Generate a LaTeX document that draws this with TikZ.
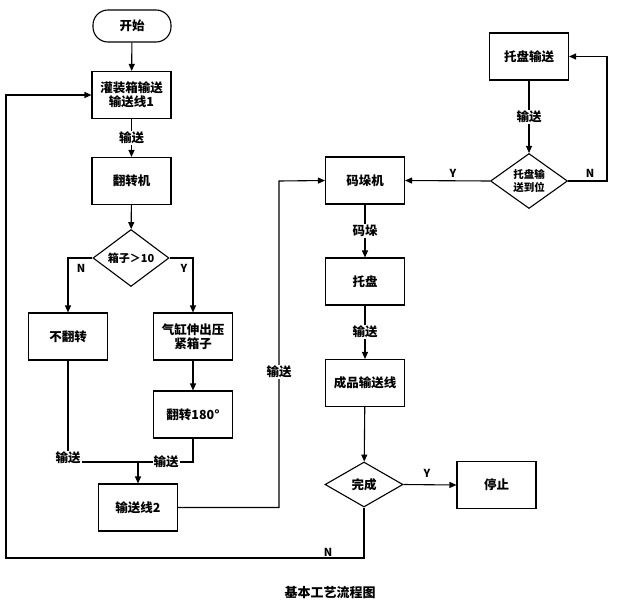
\documentclass[tikz,border=0pt]{standalone}
\usepackage{fontspec}
\setmainfont{Noto Sans CJK SC}
\usetikzlibrary{shapes.geometric,arrows.meta}
\begin{document}
\begin{tikzpicture}[x=1pt,y=-1pt,
  every node/.style={font=\fontsize{12.5}{14.5}\selectfont\bfseries},
  box/.style={draw,line width=1.1pt,minimum width=79pt,minimum height=47pt,inner sep=1pt,align=center},
  term/.style={draw,line width=1.1pt,rounded corners=15pt,minimum width=78pt,minimum height=32pt,inner sep=1pt},
  dia/.style={draw,line width=1.1pt,diamond,inner sep=0pt,align=center},
  lbl/.style={fill=white,inner sep=1pt},
  yn/.style={inner sep=1pt,font=\fontsize{11}{13}\selectfont\bfseries},
  conn/.style={line width=1.1pt},
  arr/.style={conn,-{Triangle[length=7pt,width=6pt]}}]
\useasboundingbox (0,0) rectangle (620,613);
% left column
\node[term] (start) at (132,26) {开始};
\node[box] (load) at (131.5,95) {灌装箱输送\\输送线1};
\node[box] (flip) at (131.5,181) {翻转机};
\node[dia,minimum width=76pt,minimum height=45pt,font=\fontsize{11}{13}\selectfont\bfseries] (d1) at (131,258) {箱子＞10};
\node[box] (noflip) at (68,336.5) {不翻转};
\node[box] (press) at (193,336.5) {气缸伸出压\\紧箱子};
\node[box] (rot) at (193,414.5) {翻转180°};
\node[box] (line2) at (138,507.5) {输送线2};
% right column
\node[box] (pconv) at (529,56.5) {托盘输送};
\node[dia,minimum width=77pt,minimum height=55pt,font=\fontsize{10.5}{13}\selectfont\bfseries] (d2) at (529,181) {托盘输\\送到位};
\node[box] (stack) at (365,180.5) {码垛机};
\node[box] (pallet) at (365,281.5) {托盘};
\node[box] (prod) at (365,383) {成品输送线};
\node[dia,minimum width=78pt,minimum height=45pt] (d3) at (364,484.5) {完成};
\node[box] (stop) at (496.5,485) {停止};
% helper coordinates
\coordinate (n1) at (68,258);
\coordinate (y1) at (193,258);
\coordinate (m1) at (68,462);
\coordinate (m2) at (193,462);
\coordinate (mj) at (138,462);
\coordinate (r1) at (279,507.5);
\coordinate (r2) at (279,181);
\coordinate (q1) at (607,181);
\coordinate (q2) at (607,56.5);
\coordinate (b1) at (364,558);
\coordinate (b2) at (6,558);
\coordinate (b3) at (6,95);
% connectors
\draw[arr] (start) -- (load);
\draw[arr] (load) -- node[lbl]{输送} (flip);
\draw[arr] (flip) -- (d1);
\draw[arr] (d1.west) -- (n1) -- (noflip.north);
\draw[arr] (d1.east) -- (y1) -- (press.north);
\draw[arr] (press) -- (rot);
\draw[conn] (noflip.south) -- (m1) -- (mj);
\draw[conn] (rot.south) -- (m2) -- (mj);
\draw[arr] (mj) -- (line2.north);
\draw[arr] (line2.east) -- (r1) -- (r2) -- (stack.west);
\draw[arr] (pconv) -- node[lbl]{输送} (d2);
\draw[arr] (d2.west) -- (stack.east);
\draw[arr] (d2.east) -- (q1) -- (q2) -- (pconv.east);
\draw[arr] (stack) -- node[lbl]{码垛} (pallet);
\draw[arr] (pallet) -- node[lbl]{输送} (prod);
\draw[arr] (prod) -- (d3);
\draw[arr] (d3.east) -- (stop.west);
\draw[arr] (d3.south) -- (b1) -- (b2) -- (b3) -- (load.west);
% labels
\node[yn] (ln1) at (81,268) {N};
\node[yn] (ly1) at (184,268) {Y};
\node[lbl] (lc1) at (68,458) {输送};
\node[lbl] (lc2) at (166,462) {输送};
\node[lbl] (lc3) at (279,372) {输送};
\node[yn] (ly2) at (453,173) {Y};
\node[yn] (ln2) at (590,173) {N};
\node[yn] (ly3) at (427,473) {Y};
\node[yn] (ln3) at (328,552) {N};
\node[font=\fontsize{13}{15}\selectfont\bfseries] (title) at (330,593) {基本工艺流程图};
\end{tikzpicture}
\end{document}
